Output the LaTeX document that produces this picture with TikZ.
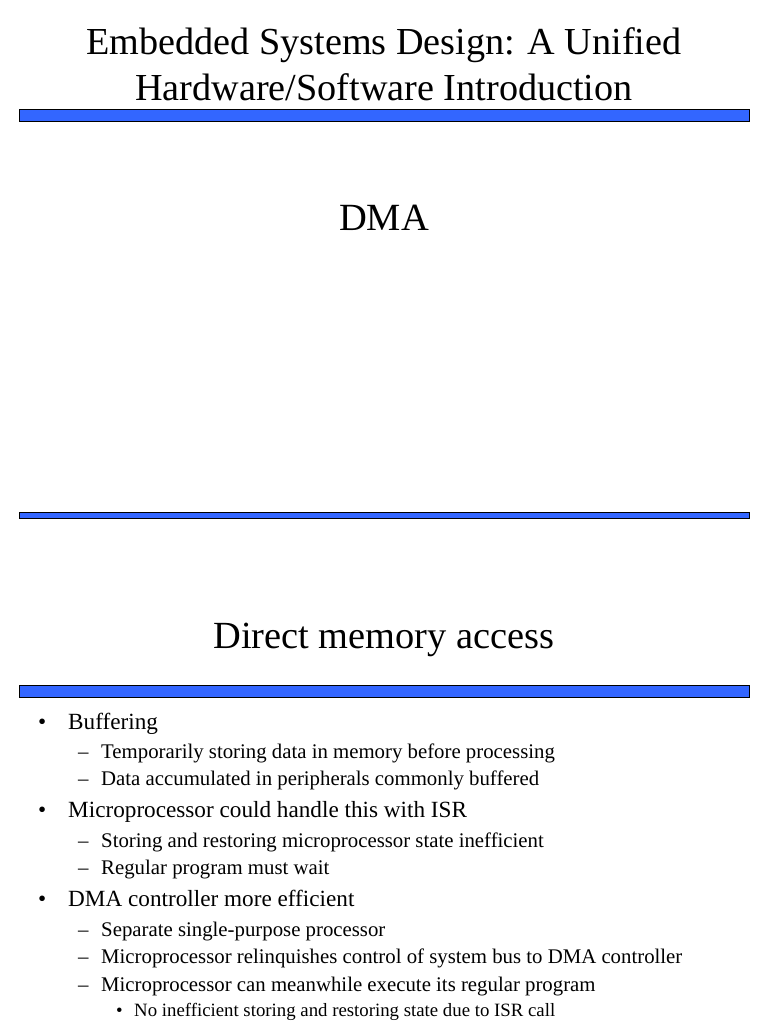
\documentclass[tikz,border=0pt]{standalone}
\usepackage{fontspec}
\setmainfont{Liberation Serif}
\begin{document}
\begin{tikzpicture}[x=1pt,y=-1pt,
  bar/.style={draw=black,fill=barblue,line width=0.8pt},
  lone/.style={anchor=base west,inner sep=0,font=\fontsize{23.2}{26}\selectfont},
  ltwo/.style={anchor=base west,inner sep=0,font=\fontsize{20.8}{22}\selectfont},
  lthree/.style={anchor=base west,inner sep=0,font=\fontsize{18.8}{20}\selectfont}]
\definecolor{barblue}{HTML}{3366FF}
\useasboundingbox (0,0) rectangle (768,1024);
\node[align=center,font=\fontsize{38.2}{46}\selectfont] (title) at (384,64) {Embedded Systems Design: A Unified\\Hardware/Software Introduction};
\draw[bar] (19,109) rectangle (749,121);
\node[font=\fontsize{38.5}{40}\selectfont] (dma) at (384,218) {DMA};
\draw[bar] (19,512) rectangle (749,518);
\node[font=\fontsize{38.4}{40}\selectfont] (dmatitle) at (384,640) {Direct memory access};
\draw[bar] (19,685) rectangle (749,697);
\foreach \y/\t in {729/Buffering,817/Microprocessor could handle this with ISR,906/DMA controller more efficient}{
  \node[lone] at (38,\y) {•};
  \node[lone] at (68,\y) {\t};}
\foreach \y/\t in {758/Temporarily storing data in memory before processing,785/Data accumulated in peripherals commonly buffered,847/Storing and restoring microprocessor state inefficient,874/Regular program must wait,936/Separate single-purpose processor,963/Microprocessor relinquishes control of system bus to DMA controller,991/Microprocessor can meanwhile execute its regular program}{
  \node[ltwo] at (78,\y) {–};
  \node[ltwo] at (101,\y) {\t};}
\node[lthree] at (116,1016) {•};
\node[lthree] (l3) at (134,1016) {No inefficient storing and restoring state due to ISR call};
\end{tikzpicture}
\end{document}
